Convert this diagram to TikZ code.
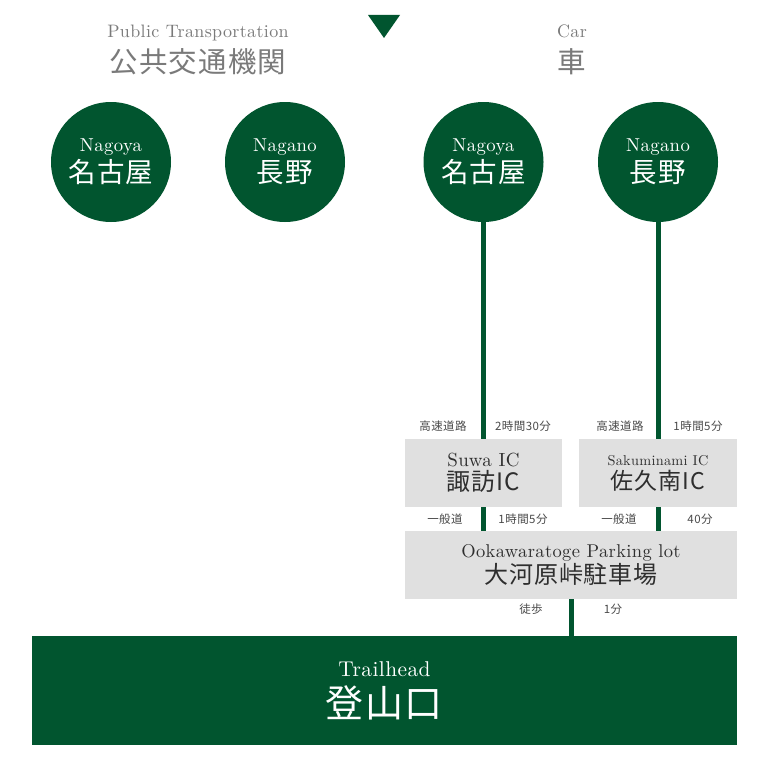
\documentclass[tikz,border=0pt]{standalone}
\usepackage{fontspec}
\newfontfamily\jp{Noto Sans CJK JP}[LetterSpace=4]
\newfontfamily\enfont{lmroman10-regular.otf}[LetterSpace=2]
\usetikzlibrary{positioning,calc}
\definecolor{green700}{HTML}{01552F}
\definecolor{grey200} {HTML}{E0E0E0}
\definecolor{grey500} {HTML}{7A7A7A}
\definecolor{grey700} {HTML}{4A4A4A}
\definecolor{grey800} {HTML}{2E2E2E}
\newcommand{\en}[2]{{\enfont\fontsize{#1}{#1}\selectfont #2}}
\newcommand{\ja}[2]{{\jp\fontsize{#1}{#1}\selectfont #2}}
\tikzset{
  stn/.style   ={circle, fill=green700, minimum size=120pt, inner sep=0pt,
                 text=white, align=center, font=\fontsize{16}{31}\selectfont},
  icbox/.style ={fill=grey200, minimum width=157pt, minimum height=68pt,
                 inner sep=0pt, align=center, text=grey800,
                 font=\fontsize{16}{24}\selectfont},
  road/.style  ={draw=green700, line width=5pt},
  time/.style  ={font=\jp\fontsize{11.5}{13}\selectfont, text=grey700,
                 inner sep=0pt},
  head/.style  ={text=grey500, align=center, inner sep=0pt,
                 font=\fontsize{16}{35}\selectfont}
}

\begin{document}
\begin{tikzpicture}[x=1pt,y=-1pt]
\useasboundingbox[fill=white] (0,0) rectangle (768,768);

\node[head] (pubhead) at (198,50) {\en{18}{Public Transportation}\\\ja{28.5}{公共交通機関}};
\node[head] (carhead) at (572,50) {\en{18}{Car}\\\ja{28.5}{車}};
\fill[green700] (368,15) -- (400,15) -- (384,38) -- cycle;

\node[stn] (pubnagoya) at (111,162) {\en{18.7}{Nagoya}\\\ja{27.5}{名古屋}};
\node[stn] (pubnagano) at (285,162) {\en{18.7}{Nagano}\\\ja{27.5}{長野}};
\node[stn] (carnagoya) at (483.5,162) {\en{18.7}{Nagoya}\\\ja{27.5}{名古屋}};
\node[stn] (carnagano) at (658,162) {\en{18.7}{Nagano}\\\ja{27.5}{長野}};

\node[icbox] (suwa) at (483.5,473) {\en{19}{Suwa IC}\\\ja{24}{諏訪IC}};
\node[icbox, minimum width=158pt] (saku) at (658,473)
  {\en{14.3}{Sakuminami IC}\\\ja{23}{佐久南IC}};
\node[icbox, minimum width=332pt] (parking) at (571,565)
  {\en{18.5}{Ookawaratoge Parking lot}\\\ja{24}{大河原峠駐車場}};
\node[fill=green700, minimum width=705pt, minimum height=109pt, inner sep=0pt,
      text=white, align=center, font=\fontsize{18}{41}\selectfont]
  (trail) at (384.5,690.5) {\en{21.4}{Trailhead}\\\ja{38}{登山口}};

\draw[road] (carnagoya) -- (suwa);
\draw[road] (carnagano) -- (saku);
\draw[road] (suwa.south) -- (suwa.south |- parking.north);
\draw[road] (saku.south) -- (saku.south |- parking.north);
\draw[road] (parking.south) -- (parking.south |- trail.north);

\node[time] (hw1) at (443,426) {高速道路};
\node[time] (hwt1) at (523,426) {2時間30分};
\node[time] (hw2) at (620,426) {高速道路};
\node[time] (hwt2) at (698,426) {1時間5分};
\node[time] (lr1) at (445,519) {一般道};
\node[time] (lrt1) at (523,519) {1時間5分};
\node[time] (lr2) at (619,519) {一般道};
\node[time] (lrt2) at (700,519) {40分};
\node[time] (walk) at (531,609) {徒歩};
\node[time] (walkt) at (613,609) {1分};
\end{tikzpicture}
\end{document}
